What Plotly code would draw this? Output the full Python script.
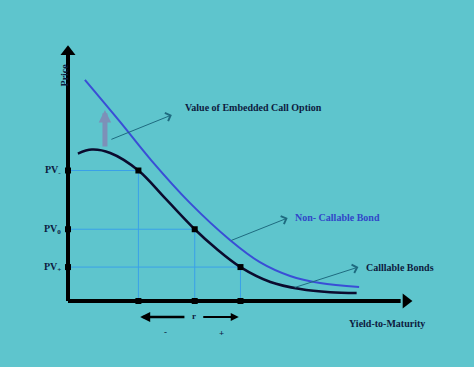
import plotly.graph_objects as go

# ---- data ----
callable_x = [0.28, 0.68, 1.2, 2.0, 2.75, 3.6, 4.2, 4.9, 5.75, 6.6, 7.45, 8.2]
callable_y = [5.65, 5.8, 5.67, 5.0, 3.95, 2.75, 2.02, 1.3, 0.73, 0.46, 0.34, 0.31]
noncall_x = [0.48, 1.48, 2.36, 3.47, 4.6, 5.45, 6.31, 7.16, 8.27]
noncall_y = [8.47, 6.86, 5.40, 3.75, 2.34, 1.49, 0.96, 0.69, 0.54]
yield_pts = [2.0, 3.6, 4.9]
pv_vals = [5.0, 2.75, 1.3]
pv_labels = ["PV<sub>-</sub>", "PV<sub>0</sub>", "PV<sub>+</sub>"]

BG = "#5EC5CD"
NAVY = "#0D1B3E"
GUIDE = "#3AA0E8"
POINTER = "#1E6B80"
FONT = "Liberation Serif"

fig = go.Figure()

# guide lines
gx, gy = [], []
for xr, pv in zip(yield_pts, pv_vals):
    gx += [0, xr, xr, None]
    gy += [pv, pv, 0, None]
fig.add_trace(go.Scatter(x=gx, y=gy, mode="lines", line=dict(color=GUIDE, width=1), hoverinfo="skip"))

# curves
fig.add_trace(go.Scatter(x=noncall_x, y=noncall_y, mode="lines",
                         line=dict(color="#3A4ED6", width=2, shape="spline", smoothing=1.0)))
fig.add_trace(go.Scatter(x=callable_x, y=callable_y, mode="lines",
                         line=dict(color="#0B0B2E", width=2.5, shape="spline", smoothing=1.0)))

# axes
fig.add_trace(go.Scatter(x=[0, 0], y=[0, 9.45], mode="lines", line=dict(color="black", width=4)))
fig.add_trace(go.Scatter(x=[0, 9.45], y=[0, 0], mode="lines", line=dict(color="black", width=4)))
fig.add_trace(go.Scatter(x=[0], y=[9.55], mode="markers", marker=dict(symbol="triangle-up", size=13, color="black")))
fig.add_trace(go.Scatter(x=[9.6], y=[0], mode="markers", marker=dict(symbol="triangle-right", size=13, color="black")))

# point markers
mx = yield_pts + [0] * len(pv_vals) + yield_pts
my = pv_vals + pv_vals + [0] * len(yield_pts)
fig.add_trace(go.Scatter(x=mx, y=my, mode="markers",
                         marker=dict(symbol="square", size=6, color="black")))

ann = []
def txt(x, y, s, color=NAVY, size=10, xanchor="left", angle=0):
    ann.append(dict(x=x, y=y, text=f"<b>{s}</b>", showarrow=False, xanchor=xanchor, yanchor="middle",
                    textangle=angle, font=dict(family=FONT, size=size, color=color)))

def arrow(x0, y0, x1, y1, color=POINTER, width=1, head=4, size=1.7):
    ann.append(dict(x=x1, y=y1, ax=x0, ay=y0, xref="x", yref="y", axref="x", ayref="y", text="",
                    showarrow=True, arrowhead=head, arrowwidth=width, arrowsize=size, arrowcolor=color))

for pv, lab in zip(pv_vals, pv_labels):
    txt(-0.15, pv, lab, xanchor="right")

txt(-0.32, 8.65, "Price", angle=-90)
txt(7.93, -0.88, "Yield-to-Maturity")
txt(3.26, 7.4, "Value of Embedded Call Option")
txt(6.4, 3.2, "Non- Callable Bond", color="#3146C8")
txt(8.4, 1.3, "Calllable Bonds")
txt(3.58, -0.58, "r", size=9, xanchor="center")
txt(2.78, -1.18, "-", size=9, xanchor="center")
txt(4.35, -1.22, "+", size=9, xanchor="center")

# pointer arrows
arrow(1.19, 6.17, 2.95, 7.13)
arrow(4.6, 2.3, 6.24, 3.18)
arrow(6.4, 0.5, 8.25, 1.3)

# r arrows
arrow(3.35, -0.61, 2.05, -0.61, color="black", width=2.5, head=2, size=0.8)
arrow(3.8, -0.61, 4.85, -0.61, color="black", width=2, head=2, size=0.8)

# big upward arrow
arrow(1.05, 5.86, 1.05, 7.32, color="#7D90B8", width=5, head=2, size=0.5)

fig.update_layout(
    width=474, height=367, autosize=False,
    margin=dict(l=0, r=0, t=0, b=0),
    paper_bgcolor=BG, plot_bgcolor=BG,
    showlegend=False,
    xaxis=dict(range=[-68 / 35.2, 406 / 35.2], visible=False, fixedrange=True),
    yaxis=dict(range=[-66 / 26.1, 301 / 26.1], visible=False, fixedrange=True),
    annotations=ann,
)
fig.write_html("out.html", config={"displayModeBar": False},
               post_script="document.body.style.margin='0';document.body.style.background='" + BG + "';")
